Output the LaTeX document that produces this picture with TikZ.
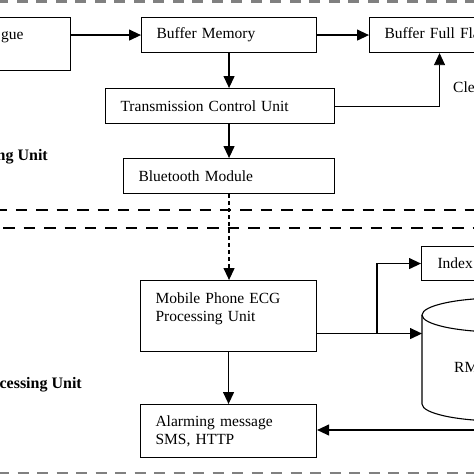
\documentclass[tikz,border=0pt]{standalone}
\usepackage{fontspec}
\setmainfont{Liberation Serif}
\usetikzlibrary{arrows.meta}
\begin{document}
\begin{tikzpicture}[x=1pt,y=-1pt,
  box/.style={draw, line width=1.1pt, inner xsep=15pt, inner ysep=0pt, align=left,
    font=\fontsize{15.5}{18}\selectfont, anchor=north west},
  lbl/.style={inner sep=0pt, font=\fontsize{15.5}{18}\selectfont},
  blbl/.style={inner sep=0pt, font=\fontsize{16}{18}\selectfont\bfseries},
  tip/.style={-{Triangle[length=12pt,width=11pt]}},
  arr/.style={line width=1.2pt, tip},
  thinarr/.style={line width=0.8pt, tip},
  sepblack/.style={line width=2.6pt, dash pattern=on 11.5pt off 8.9pt},
  sepgrey/.style={line width=4pt, draw=black!50, dash pattern=on 11pt off 8.5pt},
  cyl/.style={line width=1.1pt}]
\useasboundingbox (0,0) rectangle (474,474);
\clip (0,0) rectangle (474,474);
\fill[white] (0,0) rectangle (474,474);
% separators
\draw[sepgrey] (-3,1) -- (480,1);
\draw[sepblack] (-4.5,210) -- (480,210);
\draw[sepblack] (3.3,228) -- (480,228);
\draw[sepgrey, line width=3pt] (-2,473) -- (480,473);
% boxes
\node[box, minimum width=130, minimum height=53, text width=36, inner xsep=47pt, align=right] (gue) at (-60,17) {gue\\\mbox{}};
\node[box, minimum width=175, minimum height=35, text width=145] (bm) at (141,17) {Buffer Memory};
\node[box, minimum width=140, minimum height=35, text width=110] (bff) at (369,17) {Buffer Full Flag};
\node[box, minimum width=229, minimum height=35, text width=199] (tcu) at (105,88) {Transmission Control Unit};
\node[box, minimum width=211, minimum height=35, text width=181] (bt) at (123,158) {Bluetooth Module};
\node[box, minimum width=176, minimum height=71, text width=146] (mp) at (140,280) {Mobile Phone ECG\\Processing Unit\\\mbox{}};
\node[box, minimum width=176, minimum height=53, text width=146] (al) at (140,404) {Alarming message\\SMS, HTTP};
\node[box, minimum width=110, minimum height=34, text width=80, inner xsep=16pt] (idx) at (421,246) {Index};
% cylinder
\coordinate (dbl) at (422,315);
\draw[cyl] (dbl) -- (422,404) arc[start angle=180, end angle=0, x radius=78, y radius=17] -- (578,315);
\draw[cyl] (500,315) ellipse[x radius=78, y radius=17];
\node[lbl, anchor=west] (dbtext) at (454,367) {RM};
% labels
\node[blbl, anchor=east] (lab1) at (48,157) {ng Unit};
\node[blbl, anchor=east] (lab2) at (82,385) {cessing Unit};
\node[lbl, anchor=west] (clr) at (453,87) {Cle};
% connectors
\draw[arr] (bm.west -| gue.east) -- (bm.west);
\draw[arr] (bm.east) -- (bff.west);
\draw[arr] (bm.south) -- (bm.south |- tcu.north);
\draw[arr] (bt.north |- tcu.south) -- (bt.north);
\draw[thinarr] (tcu.east) -| (bff.south);
\draw[line width=1.2pt, dash pattern=on 4pt off 3pt, tip] (bt.south) -- (bt.south |- mp.north);
\draw[arr] (mp.south) -- (al.north);
\coordinate (mpo) at ([yshift=-17.5pt]mp.east);
\draw[arr] (mpo) -- (mpo -| dbl);
\coordinate (br) at (377,333);
\draw[arr] (br) |- (idx.west);
\coordinate (dbout) at (480,430);
\draw[arr] (dbout) -- (dbout -| al.east);
\end{tikzpicture}
\end{document}
